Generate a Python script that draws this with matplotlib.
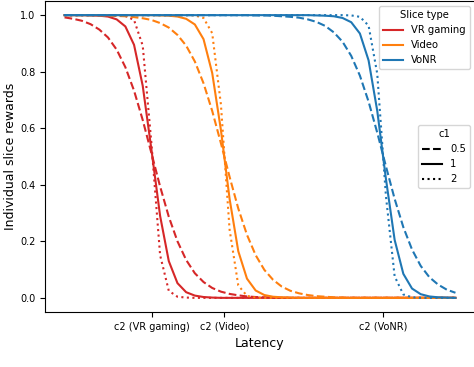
import matplotlib
matplotlib.use('Agg')
import matplotlib.pyplot as plt
from matplotlib.lines import Line2D

# latency grid (arbitrary units) and c2 positions of each slice
latency = list(range(46))
c2_ticks = [10.1, 18.4, 36.7]
c2_labels = ['c2 (VR gaming)', 'c2 (Video)', 'c2 (VoNR)']

slices = ['VR gaming', 'Video', 'VoNR']
slice_colors = ['tab:red', 'tab:orange', 'tab:blue']
c1_values = ['0.5', '1', '2']
c1_styles = ['--', '-', ':']

# rewards, one list per (slice, c1)
vr_05 = [0.992, 0.987, 0.980, 0.968, 0.949, 0.921, 0.878, 0.816, 0.733, 0.629,
         0.512, 0.394, 0.287, 0.200, 0.134, 0.087, 0.056, 0.035, 0.022, 0.014,
         0.009, 0.005, 0.003, 0.002, 0.001] + [0.0] * 21
vr_1 = [1.0, 1.0, 1.0, 0.999, 0.998, 0.995, 0.985, 0.960, 0.895, 0.750,
        0.525, 0.290, 0.130, 0.052, 0.020, 0.008, 0.003, 0.001] + [0.0] * 28
vr_2 = [1.0] * 7 + [0.997, 0.983, 0.892, 0.547, 0.151, 0.025, 0.004, 0.001] + [0.0] * 31

video_05 = [1.0] * 5 + [0.998, 0.997, 0.996, 0.993, 0.989, 0.983, 0.972, 0.956, 0.930,
                        0.892, 0.836, 0.759, 0.661, 0.547, 0.428, 0.316, 0.223, 0.151,
                        0.099, 0.064, 0.040, 0.025, 0.016, 0.010, 0.006, 0.004, 0.002,
                        0.001] + [0.0] * 13
video_1 = [1.0] * 11 + [0.999, 0.998, 0.995, 0.987, 0.967, 0.915, 0.795, 0.594, 0.350,
                        0.165, 0.068, 0.026, 0.010, 0.004, 0.002, 0.001] + [0.0] * 19
video_2 = [1.0] * 15 + [0.999, 0.990, 0.936, 0.684, 0.241, 0.044, 0.007, 0.001] + [0.0] * 23

vonr_05 = [1.0] * 22 + [0.999, 0.999, 0.998, 0.996, 0.994, 0.991, 0.985, 0.976, 0.962,
                        0.939, 0.906, 0.856, 0.786, 0.694, 0.584, 0.465, 0.350, 0.250,
                        0.171, 0.113, 0.073, 0.047, 0.029, 0.018]
vonr_1 = [1.0] * 29 + [0.999, 0.998, 0.996, 0.990, 0.975, 0.935, 0.840, 0.661, 0.420,
                       0.205, 0.085, 0.033, 0.013, 0.005, 0.002, 0.001, 0.0]
vonr_2 = [1.0] * 33 + [0.999, 0.994, 0.963, 0.792, 0.359, 0.076, 0.012, 0.002] + [0.0] * 5

rewards = [[vr_05, vr_1, vr_2],
           [video_05, video_1, video_2],
           [vonr_05, vonr_1, vonr_2]]

fig = plt.figure(figsize=(4.74, 3.67), dpi=100)
ax = fig.add_axes([45 / 474, 55 / 367, 430 / 474, 311 / 367])

for s in range(len(slices)):
    for c in range(len(c1_values)):
        ax.plot(latency, rewards[s][c], color=slice_colors[s], linestyle=c1_styles[c], lw=1.5)

ax.set_xticks(c2_ticks)
ax.set_xticklabels(c2_labels)
ax.set_yticks([0.0, 0.2, 0.4, 0.6, 0.8, 1.0])
ax.tick_params(labelsize=7)
ax.set_xlabel('Latency', fontsize=9)
ax.set_ylabel('Individual slice rewards', fontsize=9, labelpad=2)

slice_handles = [Line2D([], [], color=col, lw=1.5) for col in slice_colors]
leg1 = ax.legend(slice_handles, slices, title='Slice type', loc='upper right',
                 fontsize=7.2, title_fontsize=7.2)
ax.add_artist(leg1)
c1_handles = [Line2D([], [], color='black', linestyle=ls, lw=1.5) for ls in c1_styles]
ax.legend(c1_handles, c1_values, title='c1', loc='center right',
          fontsize=7.2, title_fontsize=7.2)

fig.savefig('out.png', dpi=100)
